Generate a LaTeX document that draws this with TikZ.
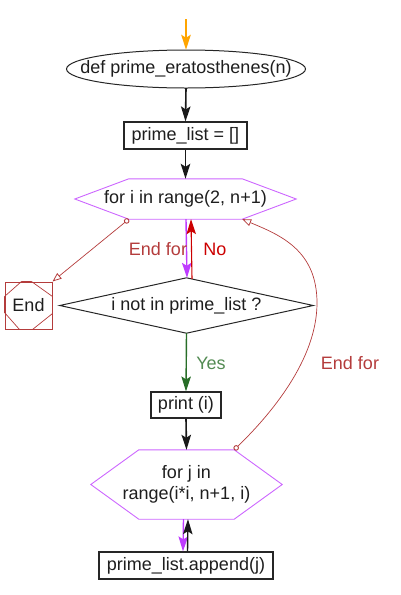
\documentclass[tikz,border=0pt]{standalone}
\usepackage{fontspec}
\setmainfont{Liberation Sans}
\usetikzlibrary{arrows.meta,calc,shapes.geometric}
\definecolor{orangeA}{RGB}{255,165,0}
\definecolor{hexpurple}{RGB}{204,102,255}
\definecolor{arrpurple}{RGB}{190,60,255}
\definecolor{endred}{RGB}{180,60,60}
\definecolor{nored}{RGB}{204,0,0}
\definecolor{yesgreen}{RGB}{40,110,40}
\definecolor{txt}{RGB}{30,30,30}
\tikzset{
  every node/.style={font=\fontsize{18}{21.5}\selectfont, text=txt},
  procbox/.style={draw=black!85, line width=1.1pt, rectangle, inner sep=0pt},
  hexbox/.style={rectangle, inner sep=0pt, align=center},
  flow/.style={draw=black!90, line width=1.6pt, -{Stealth[length=15pt,width=9.5pt,inset=3pt]}},
  lbl/.style={inner sep=0pt, font=\fontsize{18}{21.5}\selectfont},
  hexline/.style={draw=hexpurple, line width=0.9pt},
  endline/.style={draw=endred, line width=0.7pt, {Circle[open,length=5.5pt,width=5.5pt,line width=0.9pt]}-{Triangle[open,length=9pt,width=7pt,line width=0.8pt]}},
}
\begin{document}
\begin{tikzpicture}[x=1pt,y=-1pt]
\useasboundingbox (0,0) rectangle (401,595);
% nodes
\coordinate (start) at (186,19);
\node[rectangle, inner sep=0pt, minimum width=239pt, minimum height=38pt] (def) at (186,69) {def prime\_eratosthenes(n)};
\draw[draw=black!85, line width=1pt] (def.center) ellipse [x radius=119.5pt, y radius=19pt];
\node[procbox, minimum width=123pt, minimum height=27pt] (plist) at (185.5,135.5) {prime\_list = []};
\node[hexbox, minimum width=221pt, minimum height=40pt] (fori) at (185.5,199) {for i in range(2, n+1)};
\draw[hexline] (fori.west) -- ($(fori.north west)+(54,0)$) -- ($(fori.north east)+(-54,0)$) -- (fori.east) -- ($(fori.south east)+(-54,0)$) -- ($(fori.south west)+(54,0)$) -- cycle;
\node[rectangle, inner sep=0pt, minimum width=253pt, minimum height=55pt] (cond) at (186.5,305.5) {i not in prime\_list ?};
\draw[draw=black!85, line width=1pt] (cond.west) -- (cond.north) -- (cond.east) -- (cond.south) -- cycle;
\node[rectangle, draw=endred, line width=1pt, minimum width=47pt, minimum height=47pt, inner sep=0pt] (end) at (28.5,305.5) {End};
\draw[endred, line width=0.7pt] ($(end.north west)+(17,0)$) -- ($(end.north west)+(27,0)$) -- ($(end.north east)+(0,15)$) -- ($(end.north east)+(0,32)$) -- ($(end.south west)+(28,0)$) -- ($(end.south west)+(15,0)$) -- ($(end.north west)+(0,31)$) -- ($(end.north west)+(0,15)$) -- cycle;
\node[procbox, minimum width=70pt, minimum height=26pt] (print) at (186,405) {print (i)};
\node[hexbox, minimum width=191pt, minimum height=69pt] (forj) at (186.5,484.5) {for j in\\range(i*i, n+1, i)};
\draw[hexline] (forj.west) -- ($(forj.north west)+(48,0)$) -- ($(forj.north east)+(-48,0)$) -- (forj.east) -- ($(forj.south east)+(-48,0)$) -- ($(forj.south west)+(48,0)$) -- cycle;
\node[procbox, minimum width=174pt, minimum height=27pt] (append) at (186,565.5) {prime\_list.append(j)};
% connectors
\draw[flow, draw=orangeA, -{Stealth[length=15pt,width=9.5pt,inset=3pt,fill=orangeA]}] (start) -- (def.north);
\draw[flow] (def.south) -- (plist.north);
\draw[flow] (plist.south) -- (fori.north);
\draw[flow, draw=arrpurple, line width=1.4pt] ([xshift=0.5pt]fori.south) -- ([xshift=0.5pt]cond.north);
\draw[flow, draw=nored, line width=1.1pt] ([xshift=5.5pt,yshift=-1pt]cond.north) -- ([xshift=5.5pt]fori.south);
\node[lbl, text=endred] (lendi) at (158,249) {End for};
\node[lbl, text=nored] (lno) at (215,249) {No};
\coordinate (fibl) at ($(fori.south west)+(54,0)$);
\coordinate (fibr) at ($(fori.south east)+(-54,0)$);
\draw[endline] (fibl) -- (end.north east);
\draw[flow, draw=yesgreen, line width=1.4pt] (cond.south) -- (print.north);
\node[lbl, text=yesgreen!80!white] (lyes) at (211,363) {Yes};
\draw[flow] (print.south) -- (forj.north);
\coordinate (fjtr) at ($(forj.north east)+(-48,0)$);
\coordinate (curvemid) at (317,303);
\draw[endline] (fjtr) .. controls (270,415) and (317,360) .. (curvemid) .. controls (317,250) and (280,235) .. (fibr);
\node[lbl, text=endred] (lendj) at (350,363) {End for};
\draw[flow, draw=arrpurple, line width=1.4pt] ([xshift=-3pt]forj.south) -- ([xshift=-3pt]append.north);
\draw[flow, line width=1.4pt] ([xshift=1.5pt]append.north) -- ([xshift=1.5pt]forj.south);
\end{tikzpicture}
\end{document}
